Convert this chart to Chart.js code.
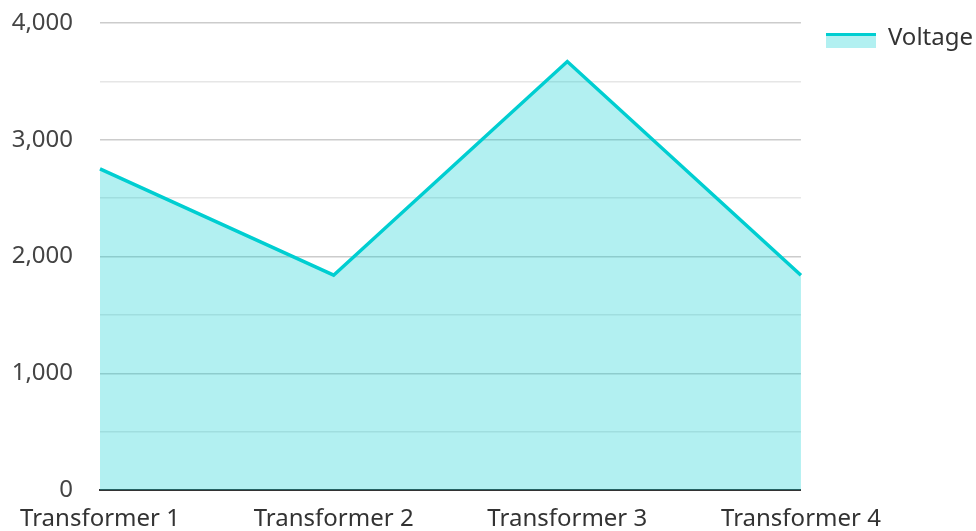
<!DOCTYPE html>
<html>
<head>
<meta charset="utf-8">
<script src="https://cdn.jsdelivr.net/npm/chart.js@4/dist/chart.umd.min.js"></script>
<style>
  html, body { margin: 0; padding: 0; background: #fff; }
  #wrap { width: 976px; height: 531px; }
</style>
</head>
<body>
<div id="wrap"><canvas id="myChart" width="976" height="531"></canvas></div>
<script>
const categories = ['Transformer 1', 'Transformer 2', 'Transformer 3', 'Transformer 4'];
const voltage = [2750, 1840, 3670, 1840];
const seriesName = 'Voltage';

const lineColor = '#00CED1';
const fillColor = 'rgba(0, 206, 209, 0.3)';
const fontFamily = '"Noto Sans", "Open Sans", sans-serif';

// legend marker: light box with a thick line on top, sitting a bit low
function legendMarker() {
    const c = document.createElement('canvas');
    c.width = 50;
    c.height = 24;
    const g = c.getContext('2d');
    g.fillStyle = fillColor;
    g.fillRect(0, 7, 50, 15);
    g.fillStyle = lineColor;
    g.fillRect(0, 7, 50, 3);
    return c;
}

const ctx = document.getElementById('myChart').getContext('2d');
new Chart(ctx, {
    type: 'line',
    data: {
        labels: categories,
        datasets: [{
            label: seriesName,
            data: voltage,
            borderColor: lineColor,
            backgroundColor: fillColor,
            borderWidth: 3.5,
            fill: 'origin',
            tension: 0,
            pointRadius: 0,
            pointHoverRadius: 0,
            pointStyle: legendMarker()
        }]
    },
    options: {
        responsive: false,
        animation: false,
        layout: { padding: { top: 23, right: -7, bottom: 0, left: 0 } },
        plugins: {
            tooltip: { enabled: false },
            legend: {
                position: 'right',
                align: 'start',
                labels: {
                    usePointStyle: true,
                    pointStyleWidth: 50,
                    color: '#333',
                    font: { family: fontFamily, size: 24 },
                    padding: 3
                }
            }
        },
        scales: {
            x: {
                offset: false,
                grid: { display: false, drawTicks: false },
                border: { display: true, color: '#333', width: 2 },
                ticks: {
                    color: '#333',
                    font: { family: fontFamily, size: 24 },
                    padding: 15,
                    maxRotation: 0,
                    autoSkip: false
                },
                afterFit: function (scale) {
                    scale.height = 41;
                    scale.paddingLeft = 0;
                    scale.paddingRight = 0;
                }
            },
            y: {
                min: 0,
                max: 4000,
                grid: {
                    drawTicks: false,
                    color: function (c) {
                        return c.tick && c.tick.value % 1000 === 0 ? '#cccccc' : '#e6e6e6';
                    },
                    lineWidth: 1.5
                },
                border: { display: false },
                ticks: {
                    stepSize: 500,
                    color: '#444',
                    font: { family: fontFamily, size: 24 },
                    padding: 27,
                    callback: function (v) {
                        return v % 1000 === 0 ? v.toLocaleString('en-US') : '';
                    }
                },
                afterFit: function (scale) {
                    scale.width = 100;
                    scale.paddingTop = 0;
                    scale.paddingBottom = 0;
                }
            },
            // empty spacer between plot and legend
            gap: {
                type: 'linear',
                position: 'right',
                grid: { display: false },
                border: { display: false },
                ticks: { display: false },
                afterFit: function (scale) {
                    scale.width = 22;
                    scale.paddingTop = 0;
                    scale.paddingBottom = 0;
                }
            }
        }
    }
});
</script>
</body>
</html>
